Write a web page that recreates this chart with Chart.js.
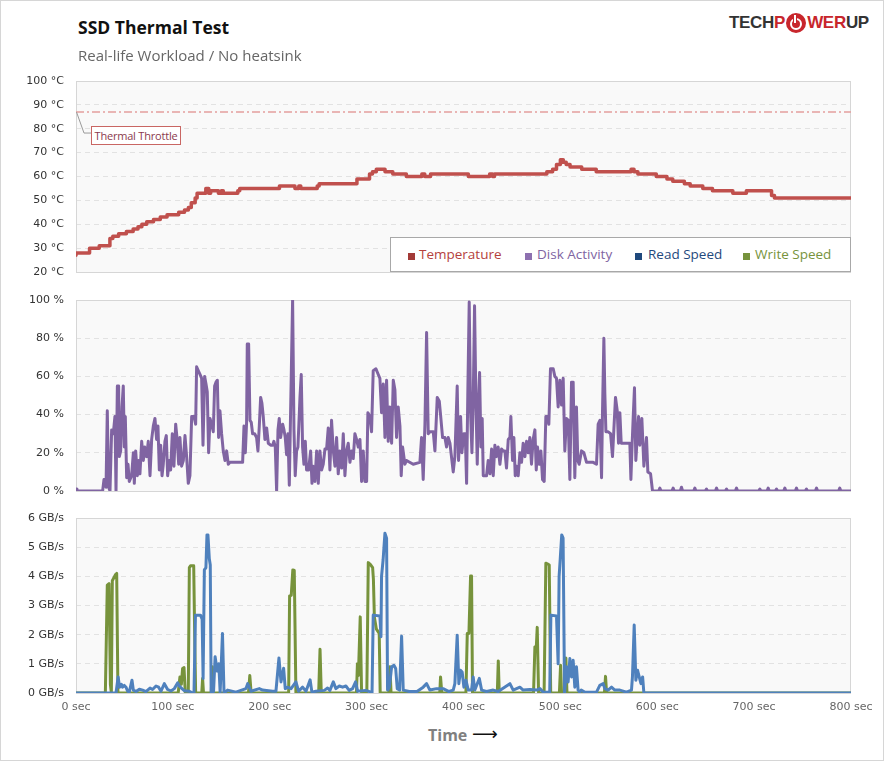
<!DOCTYPE html>
<html><head><meta charset="utf-8">
<script src="https://cdn.jsdelivr.net/npm/chart.js@4.4.1/dist/chart.umd.min.js"></script>
<style>
html,body{margin:0;padding:0;background:#fff;}
#wrap{position:relative;width:884px;height:761px;overflow:hidden;background:#fff;font-family:'Open Sans','Noto Sans',sans-serif;}
#frame{position:absolute;left:0;top:0;width:884px;height:761px;box-sizing:border-box;border:1px solid #d6d6d6;pointer-events:none;}
canvas{position:absolute;left:0;}
#title{position:absolute;left:78px;top:15px;font-size:17.5px;font-weight:700;color:#111;white-space:nowrap;}
#sub{position:absolute;left:78px;top:45px;font-size:15px;color:#666;white-space:nowrap;}
#logo{position:absolute;left:729px;top:12px;height:22px;display:flex;align-items:center;font-family:'Liberation Sans',Arial,sans-serif;font-weight:700;font-size:17px;letter-spacing:-0.3px;}
#logo .d{color:#333;} #logo .r{color:#c8262c;}
#logo .pw{position:relative;display:inline-block;width:20px;height:20px;border-radius:50%;background:#c8262c;margin:0 1px;}
#logo .pw::before{content:'';position:absolute;left:4px;top:5px;width:8px;height:8px;border:2px solid #fff;border-radius:50%;}
#logo .pw::after{content:'';position:absolute;left:7px;top:2px;width:2px;height:8px;background:#fff;border-left:1.5px solid #c8262c;border-right:1.5px solid #c8262c;}
#legend{position:absolute;left:390px;top:237px;width:461px;height:35px;box-sizing:border-box;border:1px solid #a8a8a8;background:#fff;}
.li{position:absolute;top:7px;font-size:13.5px;white-space:nowrap;}
.sq{position:absolute;top:15px;width:7px;height:7px;}
#thr{position:absolute;left:91px;top:126px;width:90px;height:19px;box-sizing:border-box;border:1px solid #c96663;background:#fff;color:#8b3a4e;font-size:11px;line-height:17px;text-align:center;letter-spacing:-0.2px;white-space:nowrap;}
#time{position:absolute;left:428px;top:724px;font-size:16px;font-weight:700;color:#808080;white-space:nowrap;}
#arrow{position:absolute;left:472px;top:723px;font-family:'DejaVu Sans',sans-serif;font-size:18px;color:#111;}
</style></head>
<body>
<div id="wrap">
  <canvas id="c1" width="884" height="241" style="top:56px"></canvas>
  <canvas id="c2" width="884" height="241" style="top:275px"></canvas>
  <canvas id="c3" width="884" height="230" style="top:493px"></canvas>
  <div id="title">SSD Thermal Test</div>
  <div id="sub">Real-life Workload / No heatsink</div>
  <div id="logo"><span class="d">TECH</span><span class="r">P</span><span class="pw"></span><span class="r">WER</span><span class="d">UP</span></div>
  <div id="thr">Thermal Throttle</div>
  <div id="legend">
    <div class="sq" style="left:17px;background:#a33a37"></div><div class="li" style="left:28px;color:#b5413d">Temperature</div>
    <div class="sq" style="left:134px;background:#8d70b0"></div><div class="li" style="left:146px;color:#8064a2">Disk Activity</div>
    <div class="sq" style="left:244px;background:#1f497d"></div><div class="li" style="left:257px;color:#1f497d">Read Speed</div>
    <div class="sq" style="left:352px;background:#77933c"></div><div class="li" style="left:364px;color:#77933c">Write Speed</div>
  </div>
  <div id="time">Time</div>
  <div id="arrow">⟶</div>
  <div id="frame"></div>
</div>
<script>
// ---------- DATA ----------
const xTickStep = 100; // seconds
const throttleTemp = 87;

const tempTime = [0,14,24,35,38,44,52,59,64,68,73,80,87,94,106,112,116,119,123,125,134,137,139,147,150,152,167,169,210,226,230,232,249,251,290,303,306,310,319,327,341,357,360,366,405,427,430,432,486,492,496,500,503,506,510,522,537,573,576,580,599,610,616,628,634,647,657,678,692,718,721,745,800];
const tempVal  = [27,28,30,31,34,35,36,37,38,39,40,41,42,43,44,45,46,47,49,51,53,55,53,54,53,54,53,54,55,56,55,56,55,56,57,59,61,62,63,62,61,60,61,60,61,60,61,60,61,62,63,65,67,66,65,64,63,62,63,62,61,60,59,58,57,56,55,54,53,54,52,51,51];

const diskTime = [0,1,27.5,28.9,31,32.3,33.7,35.1,36.8,38.5,40.2,41.3,42.7,44,44.7,46.1,47.5,48.8,49.9,50.9,52.3,53.7,55,57.4,59.2,60.2,61.6,63.3,64.7,66,67.8,69.5,70.9,72.9,74.6,76.4,78.1,79.8,81.5,83.2,84.6,86,87.4,88.8,90.1,91.8,93.2,94.6,96.3,97.7,99.4,101.1,102.9,104.6,106,107.3,109,110.8,112.5,114.2,115.9,117.6,119.4,121.8,123.5,124.5,126.2,128,129.7,131.1,132.8,134.2,135.5,136.9,138.3,140,141.7,143.1,144.5,145.9,147.2,148.6,150.3,152,153.8,155.5,157.2,158.9,172,173.4,174.8,176.1,176.8,178.2,179.6,180.9,182.3,184.4,186.4,187.8,189.2,190.6,191.9,193.3,195,196.8,198.5,200.9,203,204.3,205.7,207.1,208.5,209.8,211.2,213.3,214.7,216,217.4,218.8,220.2,221.5,223.6,225,226.3,227.7,229.1,231.2,232.5,233.9,235.3,236.7,238,240.1,242.2,243.6,244.9,246.6,248.4,250.1,251.8,253.5,255.2,257,258.7,260.4,262.1,263.8,265.6,267.3,269,270.7,272.4,274.2,275.9,277.6,279.3,281,282.8,284.5,286.2,287.9,289.6,291.4,293.1,294.8,296.5,298.2,300,301.3,303.4,305.1,306.8,309.6,312,313.7,315.4,317.2,318.9,320.6,322.3,324,325.8,327.5,329.2,330.9,332.6,334.4,335.7,337.1,339.5,341.2,348.1,355,356.7,358.4,360.2,361.9,363.6,365.3,368.8,370.5,372.9,375,376.3,378.4,380.8,382.5,384.2,386,389.4,391.1,393.5,394.9,397,398.3,400.4,401.8,403.2,404.5,405.9,407.3,408.7,410,411.4,412.8,414.2,415.6,416.6,418,419.3,420.4,423.8,425.5,427.3,429,430.7,432.4,434.1,435.8,437.6,439.3,441,442.7,444.4,446.2,447.9,448.9,450.6,452,453.4,454.8,456.5,458.2,459.9,461.6,463.4,465.1,466.8,468.5,470.2,471.9,473.7,475.1,476.4,478.2,479.9,481.6,483.3,485,486.7,488.1,489.8,492.6,494.3,496,497.7,499.5,501.2,502.9,504.6,506.3,508.1,509.8,511.5,513.2,514.9,516.6,518,519.4,521.8,524.3,527,533.9,537.3,539,540.8,542.5,543.5,544.9,545.9,547,549.4,551.8,553.8,555.2,556.9,558.7,560,561.4,562.8,571.7,572.8,574.1,575.2,576.5,577.9,579.3,580.7,582,584.1,586.2,588.9,590.3,593.1,595.1,601.5,602.7,604,615.2,616.4,617.6,623.8,625,626.2,637.6,638.8,640,649.6,650.8,652,660,661.2,662.4,670.3,671.5,672.7,680.6,681.8,683,704.7,705.9,707.1,713.3,714.5,715.7,721.9,723.1,724.3,730.5,731.7,732.9,742.5,743.7,744.9,752.8,754,755.2,763.2,764.4,765.6,787.2,788.4,789.6,800];
const diskVal  = [1,0,0,6,2,42,2,0,32,30,39,0,55,55,18,21,44,55,23,39,7,14,5,8,20,4,21,8,16,9,26,16,23,18,26,8,27,34,38,27,34,11,24,8,14,26,29,8,16,11,30,13,35,26,14,28,13,16,29,18,4,8,39,39,35,65,63,61,59,24,60,56,52,20,38,35,31,55,57,58,28,42,30,21,16,21,14,15,15,34,20,36,77,77,37,36,30,30,28,21,34,49,46,39,27,33,25,24,24,26,23,0,32,38,28,35,32,28,19,30,3,41,100,32,8,21,23,49,61,23,14,26,11,11,21,4,13,5,21,4,21,11,14,22,22,33,11,37,21,13,28,9,21,12,30,8,21,25,15,21,17,30,27,23,27,5,21,5,5,41,39,31,63,64,61,59,41,56,28,58,26,44,25,58,53,28,44,34,8,23,14,16,14,15,28,6,35,83,30,31,31,21,49,47,40,28,28,23,28,25,10,18,55,16,39,20,30,30,4,53,99,41,20,46,97,48,14,48,62,23,38,8,8,16,9,22,8,24,18,23,14,22,21,21,12,27,28,39,16,28,8,13,8,20,15,25,18,26,20,28,14,27,32,11,23,14,21,6,5,39,39,35,64,64,60,59,44,58,45,59,21,38,37,6,57,57,7,44,16,14,21,20,15,15,14,35,37,7,42,80,51,31,31,30,18,32,49,42,25,41,25,25,6,25,39,54,16,28,39,24,38,13,28,10,9,0,0,1.5,0,0,1.5,0,0,2,0,0,1.5,0,0,1,0,0,1.5,0,0,1,0,0,1.5,0,0,1,0,0,1.5,0,0,1,0,0,1.5,0,0,1.5,0,0,1,0,0,1.5,0,0,1.5,0,0];

const readTime = [0,41.3,43.5,45,46.8,48,49.9,51.6,53.3,55,57.8,59.2,62,65.4,68.8,72.2,76.4,79,82.6,85.3,87.7,91.2,94.6,98,101.5,105,106.6,109.4,111.8,117,120.4,121.8,123.3,128.5,130.2,131.2,132.5,134.1,135.2,136.2,137.6,138.6,139.5,142,143.6,145.8,147.4,148.8,151.2,152.8,156.5,165,175.4,177.2,180.6,189.2,192.6,203,206.4,209.5,211.6,214.3,216,218.4,222,227,229.8,233.9,237.4,241.7,243.5,247.7,256.3,259.7,262.1,265.6,268.3,271.8,275.2,278.6,282,285.5,288.6,290.7,299.3,304.4,305.6,306.8,313.7,314.8,315.4,317,318.9,320.6,321.6,323.5,325.8,328.2,330,331.6,334,336.1,337.8,344,352,358.4,361.9,365.3,372.2,379,385,389.4,391.1,393.5,395.2,396.9,398.6,400.4,402.5,404.9,408.3,410,411.7,416.3,418.7,423.8,430.7,435.8,447.9,451.3,458.2,461.6,468.5,475.4,478.9,482.3,489,490.2,496,497.7,498.7,500,501.4,502.8,504.3,506.3,508,509.8,511.5,513.2,514.9,516.6,518.3,520,521.5,525,537.3,540.7,544.2,545.9,549.3,552.8,556.2,561.4,568.3,573.4,574.4,576.2,577.9,579.7,581.4,583.2,584.9,586.2,800];
const readVal  = [0,0,0.55,0.2,0.3,0.2,0.26,0.2,0.06,0.03,0.44,0.1,0.05,0.13,0.1,0.05,0.17,0.12,0.24,0.2,0.06,0.32,0.12,0.07,0.15,0.35,0.24,0.15,0.08,0.06,0,0,2.67,2.67,2.53,0.5,4.22,4.3,5.42,5.42,4.6,4.39,0.03,0.05,1.24,0.75,1.0,0.03,2.04,0,0.1,0.03,0.15,0.32,0.06,0.15,0.1,0.06,0.06,1.2,0.38,0.85,0.15,0.2,0.15,0.38,0.06,0.2,0.06,0.45,0.03,0.06,0.09,0.17,0.09,0.38,0.15,0.24,0.2,0.24,0.09,0.15,0.38,0.06,0.09,0.03,0,2.67,2.64,1.93,4.0,4.56,5.48,5.31,0.1,0.2,0.9,0.95,0.84,0.15,0.1,1.95,0.1,0.05,0.05,0.2,0.32,0.1,0.15,0.15,0.05,0.1,0.32,1.98,0.32,0.78,0.72,0.2,0.44,0.1,0.1,0.55,0.1,0.5,0.1,0.05,0.1,0.05,0.32,0.1,0.2,0.1,0.12,0.1,0.15,0.03,0.03,2.67,2.64,1.0,4.0,4.68,5.42,5.31,0,0.9,0.38,1.18,0.55,1.12,0.2,0.9,0.1,0.03,0.1,0.03,0.03,0.26,0.32,0.15,0.1,0.2,0.1,0.1,0.03,0.1,0.55,2.33,0.44,0.78,0.55,0.32,0.55,0,0];

const writeTime = [0,30.3,32.3,34.1,35.5,36.5,37.5,40.6,42,43.3,105.5,107.3,108.8,110,111.5,112.8,115.9,117,118.2,121.5,122.5,123.5,129.8,130.7,131.6,139.6,140.7,141.8,178,179.4,180.8,219.5,220.5,222.2,223.8,225.3,227,250.5,251.9,253.2,289.5,290.5,291.5,293.4,294.8,300.2,301.7,304,306.2,307,308,310,313,314,323,324.1,325.2,375.5,376.3,377.6,402.5,403.9,405.6,407.3,408.3,409.3,434.9,435.9,436.9,472.3,473.7,475.2,476.1,477.5,483.2,485,487,488.5,490,499,500.2,501.2,504.6,505.7,506.8,545.5,546.6,547.7,800];
const writeVal  = [0,0,3.7,3.75,0.3,0,3.85,4.05,4.1,0,0,0.55,0.3,0.84,0.87,0,0,4.3,4.36,4.36,2.0,0,0,0.5,0,0,0.9,0,0,0.6,0,0,3.33,3.35,4.22,4.2,0,0,1.5,0,0,1.0,0.6,2.61,0,0,4.47,4.4,4.3,3.9,2.6,2.2,2.04,0,0,0.9,0,0,0.55,0,0,2.04,2.04,4.01,4.01,0,0,1.1,0,0,1.58,1.6,2.25,0,0,4.45,4.42,4.39,0,0,0.95,0,0,1.2,0,0,0.57,0,0];

// ---------- RENDER ----------
const pts = (ts, vs) => ts.map((t, i) => ({x: t, y: vs[i]}));
const FONT = {family: "'DejaVu Sans', sans-serif", size: 11};

const plotFrame = {
  id: 'plotFrame',
  beforeDraw(chart) {
    const {ctx, chartArea: a} = chart;
    ctx.save(); ctx.fillStyle = '#f9f9f9';
    ctx.fillRect(a.left, a.top, a.right - a.left, a.bottom - a.top); ctx.restore();
  },
  beforeDatasetsDraw(chart) {
    const {ctx, chartArea: a} = chart;
    ctx.save(); ctx.strokeStyle = '#d6d6d6'; ctx.lineWidth = 1;
    ctx.strokeRect(Math.round(a.left) + 0.5, Math.round(a.top) + 0.5, Math.round(a.right - a.left) - 1, Math.round(a.bottom - a.top));
    ctx.restore();
  }
};

const leader = {
  id: 'leader',
  afterDatasetsDraw(chart) {
    const {ctx, scales} = chart;
    const x0 = scales.x.getPixelForValue(0), y0 = scales.y.getPixelForValue(throttleTemp);
    ctx.save(); ctx.strokeStyle = '#9a9a9a'; ctx.lineWidth = 1;
    ctx.beginPath(); ctx.moveTo(x0 + 0.5, y0); ctx.lineTo(x0 + 8, y0 + 21); ctx.lineTo(x0 + 15, y0 + 21); ctx.stroke();
    ctx.restore();
  }
};

function opts(yMin, yMax, step, unit, showX) {
  const x = {type: 'linear', min: 0, max: 800, display: showX,
          grid: {display: false, drawTicks: false}, border: {display: false},
          ticks: {stepSize: xTickStep, padding: 8, color: '#666', font: FONT, maxRotation: 0, autoSkip: false,
                  callback: v => v + ' sec'}};
  if (showX) x.afterFit = s => { s.height = 30; };
  return {
    responsive: false, animation: false, devicePixelRatio: 1,
    layout: {padding: {left: 0, right: 33, top: 25, bottom: showX ? 0 : 25}},
    plugins: {legend: {display: false}, tooltip: {enabled: false}},
    elements: {point: {radius: 0}, line: {tension: 0, borderJoinStyle: 'round', borderCapStyle: 'round'}},
    scales: {
      x: x,
      y: {type: 'linear', min: yMin, max: yMax,
          grid: {color: '#e2e2e2', drawTicks: false, lineWidth: 1},
          border: {display: false, dash: [5, 4]},
          ticks: {stepSize: step, padding: 12, color: '#333', font: FONT, callback: v => v + unit},
          afterFit: s => { s.width = 76; }}
    }
  };
}

new Chart(document.getElementById('c1'), {
  type: 'line',
  data: {datasets: [
    {label: 'Temperature', data: pts(tempTime, tempVal), stepped: 'after', borderColor: '#c0504d', borderWidth: 3.5, fill: false},
    {label: 'Thermal Throttle', data: [{x: 0, y: throttleTemp}, {x: 800, y: throttleTemp}], borderColor: '#e39f9d', borderWidth: 1.6, borderDash: [8, 3, 2, 3], borderCapStyle: 'butt', fill: false}
  ]},
  options: opts(20, 100, 10, ' °C', false),
  plugins: [plotFrame, leader]
});

new Chart(document.getElementById('c2'), {
  type: 'line',
  data: {datasets: [
    {label: 'Disk Activity', data: pts(diskTime, diskVal), borderColor: '#8064a2', borderWidth: 3, fill: false}
  ]},
  options: opts(0, 100, 20, ' %', false),
  plugins: [plotFrame]
});

new Chart(document.getElementById('c3'), {
  type: 'line',
  data: {datasets: [
    {label: 'Read Speed', data: pts(readTime, readVal), borderColor: '#4f81bd', borderWidth: 3, fill: false},
    {label: 'Write Speed', data: pts(writeTime, writeVal), borderColor: '#77933c', borderWidth: 3, fill: false}
  ]},
  options: opts(0, 6, 1, ' GB/s', true),
  plugins: [plotFrame]
});
</script>
</body></html>
